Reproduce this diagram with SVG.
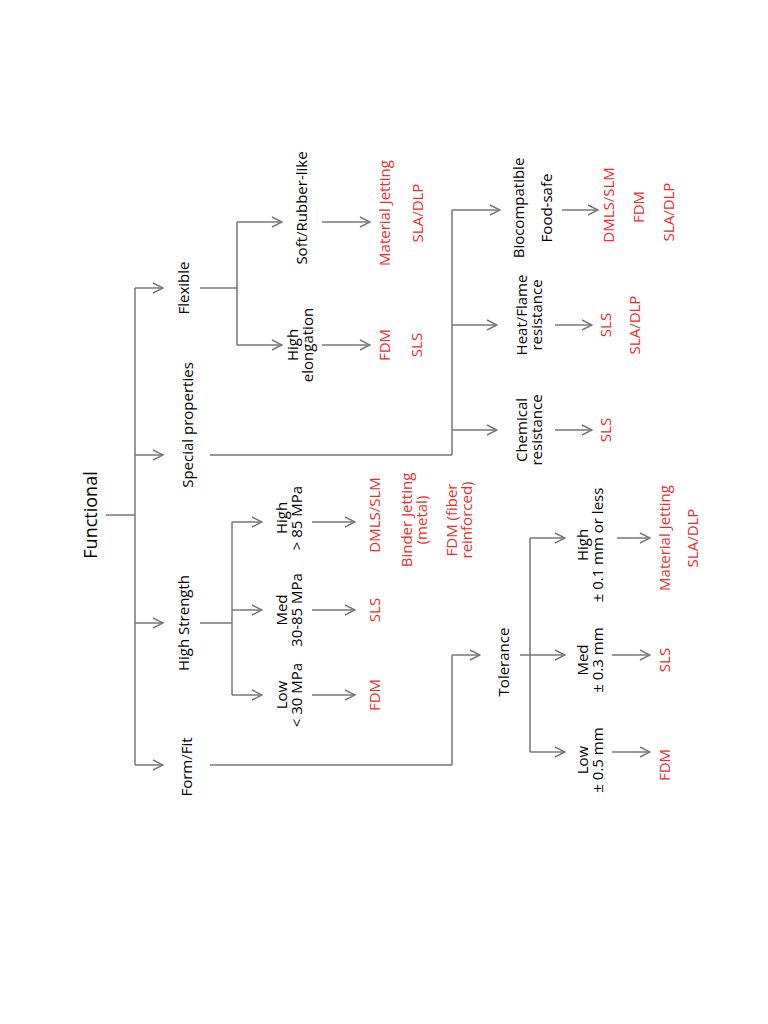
<svg xmlns="http://www.w3.org/2000/svg" width="768" height="1024" viewBox="0 0 768 1024">
<style>
text{font-family:"Open Sans","Liberation Sans",sans-serif;font-size:15px;font-weight:500;fill:#000;text-anchor:middle}
.r{fill:#ee2a2a}
.big{font-size:18px}
.c path,.c line{stroke:#777;stroke-width:1.5;fill:none}
</style>
<defs><marker id="a" viewBox="0 0 12 12" refX="11" refY="6" markerWidth="12" markerHeight="12" markerUnits="userSpaceOnUse" orient="auto"><path d="M1,1 L11,6 L1,11" stroke="#777" stroke-width="1.4" fill="none"/></marker></defs>
<rect width="768" height="1024" fill="#fff"/>
<g class="c">
<path d="M106,515 H135"/>
<path d="M135,288 V765"/>
<line x1="135" y1="288" x2="163" y2="288" marker-end="url(#a)"/>
<line x1="135" y1="455" x2="163" y2="455" marker-end="url(#a)"/>
<line x1="135" y1="623" x2="163" y2="623" marker-end="url(#a)"/>
<line x1="135" y1="765" x2="163" y2="765" marker-end="url(#a)"/>
<path d="M200,288 H237 M237,222 V345"/>
<line x1="237" y1="222" x2="282" y2="222" marker-end="url(#a)"/>
<line x1="237" y1="345" x2="282" y2="345" marker-end="url(#a)"/>
<line x1="322" y1="222" x2="370" y2="222" marker-end="url(#a)"/>
<line x1="322" y1="345" x2="370" y2="345" marker-end="url(#a)"/>
<path d="M210,455 H452 M452,210 V455"/>
<line x1="452" y1="210" x2="500" y2="210" marker-end="url(#a)"/>
<line x1="452" y1="325" x2="497" y2="325" marker-end="url(#a)"/>
<line x1="452" y1="430" x2="497" y2="430" marker-end="url(#a)"/>
<line x1="562" y1="210" x2="598" y2="210" marker-end="url(#a)"/>
<line x1="555" y1="325" x2="592" y2="325" marker-end="url(#a)"/>
<line x1="555" y1="430" x2="592" y2="430" marker-end="url(#a)"/>
<path d="M200,623 H232 M232,522 V695"/>
<line x1="232" y1="522" x2="262" y2="522" marker-end="url(#a)"/>
<line x1="232" y1="610" x2="262" y2="610" marker-end="url(#a)"/>
<line x1="232" y1="695" x2="262" y2="695" marker-end="url(#a)"/>
<line x1="312" y1="522" x2="355" y2="522" marker-end="url(#a)"/>
<line x1="312" y1="610" x2="355" y2="610" marker-end="url(#a)"/>
<line x1="312" y1="695" x2="355" y2="695" marker-end="url(#a)"/>
<path d="M210,765 H452 M452,655 V765"/>
<line x1="452" y1="655" x2="480" y2="655" marker-end="url(#a)"/>
<path d="M520,655 H530 M530,538 V752"/>
<line x1="530" y1="538" x2="565" y2="538" marker-end="url(#a)"/>
<line x1="530" y1="655" x2="565" y2="655" marker-end="url(#a)"/>
<line x1="530" y1="752" x2="565" y2="752" marker-end="url(#a)"/>
<line x1="617" y1="538" x2="650" y2="538" marker-end="url(#a)"/>
<line x1="612" y1="655" x2="650" y2="655" marker-end="url(#a)"/>
<line x1="612" y1="752" x2="650" y2="752" marker-end="url(#a)"/>
</g>
<g id="functional"><text class="big" transform="translate(97,515) rotate(-90)">Functional</text></g>
<g id="flexible"><text transform="translate(189,288) rotate(-90)">Flexible</text></g>
<g id="soft"><text transform="translate(307,208) rotate(-90)">Soft/Rubber-like</text></g>
<g id="soft-r"><text class="r" transform="translate(390,213) rotate(-90)">Material Jetting</text><text class="r" transform="translate(423,213) rotate(-90)">SLA/DLP</text></g>
<g id="elong"><text transform="translate(298,345) rotate(-90)">High<tspan x="0" dy="15">elongation</tspan></text></g>
<g id="elong-r"><text class="r" transform="translate(390,345) rotate(-90)">FDM</text><text class="r" transform="translate(422,345) rotate(-90)">SLS</text></g>
<g id="special"><text transform="translate(193,425) rotate(-90)">Special properties</text></g>
<g id="bio"><text transform="translate(524,208) rotate(-90)">Biocompatible</text><text transform="translate(552,208) rotate(-90)">Food-safe</text></g>
<g id="bio-r"><text class="r" transform="translate(614,205) rotate(-90)">DMLS/SLM</text><text class="r" transform="translate(644,207) rotate(-90)">FDM</text><text class="r" transform="translate(674,212) rotate(-90)">SLA/DLP</text></g>
<g id="heat"><text transform="translate(527,315) rotate(-90)">Heat/Flame<tspan x="0" dy="15">resistance</tspan></text></g>
<g id="heat-r"><text class="r" transform="translate(611,325) rotate(-90)">SLS</text><text class="r" transform="translate(640,325) rotate(-90)">SLA/DLP</text></g>
<g id="chem"><text transform="translate(527,430) rotate(-90)">Chemical<tspan x="0" dy="15">resistance</tspan></text></g>
<g id="chem-r"><text class="r" transform="translate(611,430) rotate(-90)">SLS</text></g>
<g id="strength"><text transform="translate(189,623) rotate(-90)">High Strength</text></g>
<g id="s-low"><text transform="translate(287,695) rotate(-90)">Low<tspan x="0" dy="15">&lt; 30 MPa</tspan></text></g>
<g id="s-med"><text transform="translate(287,610) rotate(-90)">Med<tspan x="0" dy="15">30-85 MPa</tspan></text></g>
<g id="s-high"><text transform="translate(287,518) rotate(-90)">High<tspan x="0" dy="15">&gt; 85 MPa</tspan></text></g>
<g id="s-r"><text class="r" transform="translate(380,695) rotate(-90)">FDM</text><text class="r" transform="translate(380,610) rotate(-90)">SLS</text><text class="r" transform="translate(380,515) rotate(-90)">DMLS/SLM</text>
<text class="r" transform="translate(412,520) rotate(-90)">Binder Jetting<tspan x="0" dy="15">(metal)</tspan></text>
<text class="r" transform="translate(457,520) rotate(-90)">FDM (fiber<tspan x="0" dy="15">reinforced)</tspan></text></g>
<g id="formfit"><text transform="translate(192,767) rotate(-90)">Form/Fit</text></g>
<g id="tol"><text transform="translate(509,662) rotate(-90)">Tolerance</text></g>
<g id="t-high"><text transform="translate(588,545) rotate(-90)">High<tspan x="0" dy="15">± 0.1 mm or less</tspan></text></g>
<g id="t-med"><text transform="translate(588,660) rotate(-90)">Med<tspan x="0" dy="15">± 0.3 mm</tspan></text></g>
<g id="t-low"><text transform="translate(588,760) rotate(-90)">Low<tspan x="0" dy="15">± 0.5 mm</tspan></text></g>
<g id="t-r"><text class="r" transform="translate(670,538) rotate(-90)">Material Jetting</text><text class="r" transform="translate(698,538) rotate(-90)">SLA/DLP</text><text class="r" transform="translate(670,660) rotate(-90)">SLS</text><text class="r" transform="translate(670,765) rotate(-90)">FDM</text></g>
</svg>
